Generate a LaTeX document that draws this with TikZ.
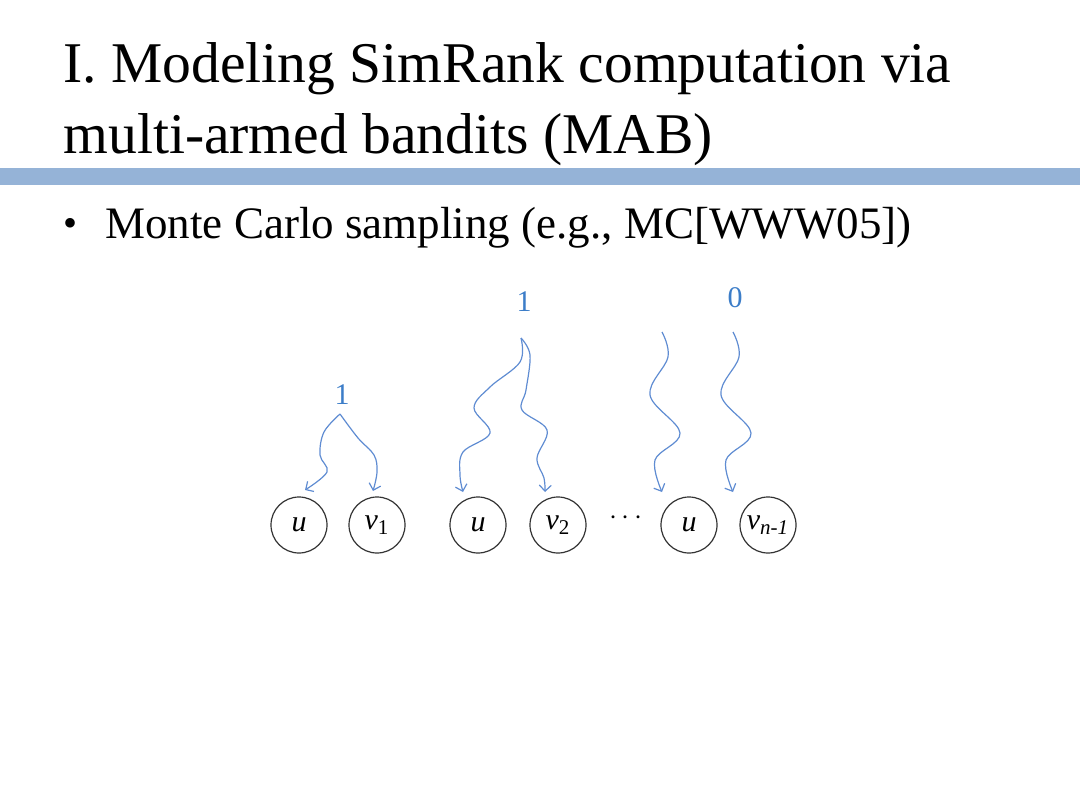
\documentclass[tikz,border=0pt]{standalone}
\usepackage{fontspec}
\setmainfont{Liberation Serif}
\usetikzlibrary{arrows.meta}
\definecolor{bar}{RGB}{149,179,215}
\definecolor{lbl}{RGB}{60,125,200}
\definecolor{wv}{RGB}{95,140,210}
\begin{document}
\begin{tikzpicture}[x=0.5pt,y=-0.5pt,
  st/.style={circle,draw=black!80,line width=0.6pt,minimum size=28pt,inner sep=0pt,font=\fontsize{15}{15}\selectfont\itshape},
  wave/.style={wv,line width=0.6pt,-{Straight Barb[length=3pt]}},
  num/.style={lbl,font=\fontsize{15}{15}\selectfont}]
\useasboundingbox (0,0) rectangle (1080,797);
\fill[bar] (0,168) rectangle (1080,185);
\node[anchor=base west,inner sep=0pt,font=\fontsize{28.8}{28.8}\selectfont] (t1) at (63,83) {I. Modeling SimRank computation via};
\node[anchor=base west,inner sep=0pt,font=\fontsize{28.8}{28.8}\selectfont] (t2) at (63,153) {multi-armed bandits (MAB)};
\node[anchor=base west,inner sep=0pt,font=\fontsize{20}{20}\selectfont] (bl) at (63,236) {\textbullet};
\node[anchor=base west,inner sep=0pt,font=\fontsize{22.5}{22.5}\selectfont] (b) at (105,238) {Monte Carlo sampling (e.g., MC[WWW05])};
\node[st] (u1) at (299,525) {u};
\node[st] (v1) at (377,525) {v\textsubscript{\upshape 1}};
\node[st] (u2) at (478,525) {u};
\node[st] (v2) at (558,525) {v\textsubscript{\upshape 2}};
\node[font=\fontsize{15}{15}\selectfont] (d) at (626,518) {$\cdots$};
\node[st] (u3) at (689,525) {u};
\node[st] (v3) at (768,525) {v\textsubscript{n-1}};
\node[num] (l1) at (342,395) {1};
\node[num] (l2) at (524,302) {1};
\node[num] (l3) at (735,298) {0};
\draw[wave] plot[smooth,tension=0.6] coordinates {(340,414) (324,432) (320,455) (327,472) (305,490)};
\draw[wave] plot[smooth,tension=0.6] coordinates {(340,414) (358,438) (374,455) (377,472) (373,491)};
\draw[wave] plot[smooth,tension=0.6] coordinates {(521,338) (520,362) (490,387) (474,408) (490,433) (463,452) (460,475) (463,492)};
\draw[wave] plot[smooth,tension=0.6] coordinates {(521,338) (530,355) (526,390) (522,410) (547,430) (537,458) (544,478) (545,492)};
\draw[wave] plot[smooth,tension=0.6] coordinates {(662,332) (668,357) (650,395) (680,433) (655,460) (662,492)};
\draw[wave] plot[smooth,tension=0.6] coordinates {(733,332) (739,357) (721,395) (751,433) (726,460) (733,492)};
\end{tikzpicture}
\end{document}
